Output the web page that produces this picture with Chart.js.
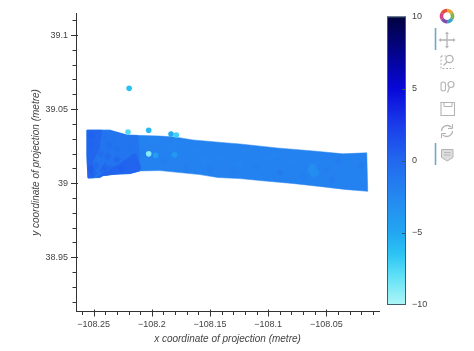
<!DOCTYPE html>
<html><head><meta charset="utf-8">
<style>
html,body{margin:0;padding:0;background:#fff;width:474px;height:351px;overflow:hidden}
canvas{position:absolute;left:0;top:0;filter:blur(0.35px)}
#tools{position:absolute;left:0;top:0;filter:blur(0.35px)}
</style>
<script src="https://cdn.jsdelivr.net/npm/chart.js@4"></script>
</head><body>
<canvas id="main" width="474" height="351" style="width:474px;height:351px"></canvas>
<canvas id="bar" width="474" height="351" style="width:474px;height:351px"></canvas>
<svg id="tools" width="474" height="351" fill="none">
<g stroke-width="3.4" fill="none">
<path d="M447 10.5a5.6 5.6 0 0 1 4.8 2.8" stroke="#e8a33a"/><path d="M451.8 13.3a5.6 5.6 0 0 1 0 5.6" stroke="#7ab648"/>
<path d="M451.8 18.9a5.6 5.6 0 0 1-4.8 2.8" stroke="#3aa0c8"/><path d="M447 21.7a5.6 5.6 0 0 1-4.8-2.8" stroke="#7a4fb0"/>
<path d="M442.2 18.9a5.6 5.6 0 0 1 0-5.6" stroke="#d8408a"/><path d="M442.2 13.3a5.6 5.6 0 0 1 4.8-2.8" stroke="#e2503a"/>
</g>
<path d="M435.5 28v22M435.5 143v22" stroke="#6fa8c8" stroke-width="1.6"/>
<g stroke="#b4b4b4" stroke-width="1.3">
<path d="M441 40h12M447 34v12" /><path d="M438.5 40l2.5-2v4zM455.5 40l-2.5-2v4zM447 31.5l-2 2.5h4zM447 48.5l-2-2.5h4z" fill="#b4b4b4" stroke="none"/>
<path d="M441 56v12.5h13" stroke-dasharray="2 1.5" stroke-width="1"/><path d="M441 56h5" stroke-dasharray="2 1.5" stroke-width="1"/>
<circle cx="449.5" cy="59" r="3.6"/><path d="M447 62l-3.500 3.500"/>
<rect x="441" y="82" width="4.500" height="9" rx="2.200" stroke-width="1.1"/><circle cx="451" cy="84.500" r="3" stroke-width="1.200"/><path d="M449.500 87.500l-2 5" stroke-width="1.200"/>
<path d="M441 102.500h13.500v13h-13.500z" stroke-width="1.100"/><path d="M444 102.500v4h8v-4" stroke-width="1"/>
<path d="M441.500 131a5.800 5.800 0 0 1 10-3.600M452.500 131a5.800 5.800 0 0 1-10 3.600"/>
<path d="M452.500 124v4.500h-4.500M441.500 138v-4.500h4.500" stroke-width="1"/>
<path d="M441.500 149.500h11.500v8l-5.700 3.500-5.800-3.500z" fill="#ddd" stroke-width="1"/><path d="M444 152.500h6.500M444 155h6.500" stroke-width="0.900"/>
</g>
</svg>
<script>
const xTickValues = [-108.25, -108.2, -108.15, -108.1, -108.05];
const yTickValues = [38.95, 39, 39.05, 39.1];
const xLabels = ['−108.25', '−108.2', '−108.15', '−108.1', '−108.05'];
const yLabels = ['38.95', '39', '39.05', '39.1'];
const barTicks = [-10, -5, 0, 5, 10];
const barLabels = ['−10', '−5', '0', '5', '10'];
const colorStops = [[-10,'#aef6f6'],[-8,'#5fe0f6'],[-6.5,'#2cc4f4'],[-5,'#22a6f2'],[-2.5,'#2488f0'],[0,'#2268ee'],[2.5,'#1a3cea'],[5,'#0808d8'],[7.5,'#04048c'],[10,'#02023f']];
const swathOutline = [
 [-108.2558,39.0358],[-108.2360,39.0358],[-108.2214,39.0325],[-108.1930,39.0318],[-108.1802,39.0312],[-108.1647,39.0292],
 [-108.1355,39.0272],[-108.1243,39.0265],[-108.0925,39.0238],[-108.0616,39.0218],[-108.0358,39.0198],[-108.0152,39.0205],
 [-108.0144,38.9945],[-108.0341,38.9958],[-108.0556,38.9978],[-108.0788,38.9998],[-108.1071,39.0018],[-108.1243,39.0031],
 [-108.1432,39.0038],[-108.1587,39.0058],[-108.1930,39.0085],[-108.2102,39.0083],[-108.2188,39.0065],[-108.2317,39.0061],
 [-108.2420,39.0051],[-108.2446,39.0038],[-108.2549,39.0035],[-108.2558,39.0178],[-108.2558,39.0358]];
const swathValue = -2;
const patchLeft = [[-108.2558,39.0358],[-108.2360,39.0358],[-108.2214,39.0325],[-108.2120,39.0322],[-108.2100,39.0120],[-108.2102,39.0083],[-108.2188,39.0065],[-108.2317,39.0061],[-108.2420,39.0051],[-108.2446,39.0038],[-108.2549,39.0035],[-108.2558,39.0178],[-108.2558,39.0358]];
const patchLeftValue = -1;
const patchDiag = [[-108.2470,39.0040],[-108.2300,39.0120],[-108.2140,39.0200],[-108.2095,39.0100],[-108.2130,39.0078],[-108.2188,39.0065],[-108.2317,39.0061],[-108.2420,39.0051],[-108.2470,39.0040]];
const patchDiagValue = 0.2;
const patchEdge = [[-108.2558,39.0358],[-108.2430,39.0358],[-108.2450,39.0240],[-108.2510,39.0140],[-108.2500,39.0036],[-108.2549,39.0035],[-108.2558,39.0178],[-108.2558,39.0358]];
const patchEdgeValue = 0.1;
const patchLight = [[-108.0640,39.0130],[-108.0600,39.0130],[-108.0560,39.0060],[-108.0620,39.0040],[-108.0660,39.0080],[-108.0640,39.0130]];
const patchLightValue = -2.9;
const textureX = [-108.2525,-108.2525,-108.2525,-108.2500,-108.2470,-108.2440,-108.2400,-108.2370,-108.2330,-108.2290,-108.2250,-108.2210,-108.2400,-108.2350,-108.2300,-108.2260,-108.2190,-108.2160,-108.2130,-108.2480,-108.2420,-108.2380,-108.2070,-108.2000,-108.1900,-108.1800,-108.1700,-108.1600,-108.1500,-108.1400,-108.1300,-108.1200,-108.1100,-108.1000,-108.0900,-108.0800,-108.0700,-108.0500,-108.0400,-108.0300,-108.0200,-108.1550,-108.1250,-108.0950,-108.0450];
const textureY = [39.0320,39.0260,39.0100,39.0070,39.0310,39.0200,39.0320,39.0260,39.0300,39.0230,39.0290,39.0240,39.0110,39.0100,39.0160,39.0095,39.0130,39.0180,39.0110,39.0120,39.0085,39.0180,39.0200,39.0285,39.0150,39.0270,39.0110,39.0220,39.0090,39.0170,39.0070,39.0220,39.0110,39.0170,39.0070,39.0150,39.0040,39.0090,39.0150,39.0030,39.0120,39.0150,39.0130,39.0190,39.0020];
const textureV = [0.8,0.5,1.0,0.5,-0.2,0,-0.6,-0.2,-0.7,-0.3,-0.9,-0.6,0.8,0.4,0.6,0.7,0.1,-0.1,0.3,0.5,0.7,0.2,-1.5,-2.4,-1.6,-2.4,-1.5,-2.5,-1.4,-2.4,-1.4,-2.5,-1.3,-2.4,-1.2,-2.5,-1.4,-1.5,-1.1,-1.9,-1.2,-2.6,-2.6,-2.6,-1.0];
const outlierX = [-108.2195,-108.2205,-108.2027,-108.1835,-108.1790,-108.2027,-108.1967,-108.1805];
const outlierY = [39.0640,39.0345,39.0357,39.0332,39.0325,39.0198,39.0188,39.0192];
const outlierV = [-6.3,-7.6,-6.0,-5.2,-7.2,-9,-4.4,-3.8];

function colorFor(v,alpha){
  const a1=alpha===undefined?1:alpha;
  for(let i=1;i<colorStops.length;i++) if(v<=colorStops[i][0]){
    const [a,ca]=colorStops[i-1],[b,cb]=colorStops[i],t=(v-a)/(b-a);
    const h=c=>[1,3,5].map(k=>parseInt(c.substr(k,2),16));
    const A=h(ca),B=h(cb);
    return 'rgba('+A.map((q,j)=>Math.round(q+(B[j]-q)*t)).join(',')+','+a1+')';
  }
  return colorStops[colorStops.length-1][1];
}
const poly=(pts,v)=>({type:'line',data:pts.map(p=>({x:p[0],y:p[1]})),showLine:true,fill:'shape',
  backgroundColor:colorFor(v),borderColor:colorFor(v),borderWidth:0.5,pointRadius:0,tension:0});
const TXT='#444444', AX='#333333', FONT='"Liberation Sans",Arial,sans-serif';
const xMajor=v=>xTickValues.some(t=>Math.abs(t-v)<1e-6);
const yMajor=v=>yTickValues.some(t=>Math.abs(t-v)<1e-6);
const hundredths=(a,b)=>{const r=[];for(let k=Math.ceil(a*100-1e-6);k<=b*100+1e-6;k++)r.push({value:k/100});return r;};
const tickMarks={id:'tickMarks',afterDraw(c){
  const g=c.ctx,x=c.scales.x,y=c.scales.y;
  g.save();g.strokeStyle=AX;g.lineWidth=1;g.beginPath();
  x.ticks.forEach(t=>{const p=Math.round(x.getPixelForValue(t.value))+.5,m=xMajor(t.value);
    g.moveTo(p,x.top-(m?2:0));g.lineTo(p,x.top+(m?5:3.5));});
  y.ticks.forEach(t=>{const p=Math.round(y.getPixelForValue(t.value))+.5,m=yMajor(t.value);
    g.moveTo(y.right+(m?2:0),p);g.lineTo(y.right-(m?5:3.5),p);});
  g.stroke();g.restore();
}};
new Chart(document.getElementById('main'),{
  type:'scatter',
  plugins:[tickMarks],
  data:{datasets:[
    {type:'scatter',data:outlierX.map((x,i)=>({x,y:outlierY[i]})),pointRadius:2.8,pointBorderWidth:0,
     pointBackgroundColor:outlierV.map(v=>colorFor(v))},
    {type:'scatter',data:textureX.map((x,i)=>({x,y:textureY[i]})),pointStyle:'rectRot',pointRadius:4,pointBorderWidth:0,
     pointBackgroundColor:textureV.map(v=>colorFor(v,0.45))},
    poly(patchLight,patchLightValue),poly(patchEdge,patchEdgeValue),poly(patchDiag,patchDiagValue),
    poly(patchLeft,patchLeftValue),poly(swathOutline,swathValue)
  ].map((d,i)=>({...d,order:i}))},
  options:{responsive:false,animation:false,
    layout:{padding:{top:10,right:95,left:0,bottom:0}},
    plugins:{legend:{display:false},tooltip:{enabled:false}},
    scales:{
      x:{type:'linear',min:-108.2652,max:-108.0047,
        afterBuildTicks:s=>{s.ticks=hundredths(s.min,s.max);},
        afterFit:s=>{s.height=39.5;},
        grid:{drawOnChartArea:false,drawTicks:false},border:{color:AX,width:1},
        ticks:{autoSkip:false,maxRotation:0,padding:8,color:TXT,font:{family:FONT,size:9},
          callback:v=>{const i=xTickValues.findIndex(t=>Math.abs(t-v)<1e-6);return i<0?'':xLabels[i];}},
        title:{display:true,text:'x coordinate of projection (metre)',color:TXT,padding:{top:0,bottom:6},font:{family:FONT,size:10,style:'italic'}}},
      y:{type:'linear',min:38.9134,max:39.1146,
        afterBuildTicks:s=>{s.ticks=hundredths(s.min,s.max);},
        afterFit:s=>{s.width=76;},
        grid:{drawOnChartArea:false,drawTicks:false},border:{color:AX,width:1},
        ticks:{autoSkip:false,padding:8,color:TXT,font:{family:FONT,size:9},
          callback:v=>{const i=yTickValues.findIndex(t=>Math.abs(t-v)<1e-6);return i<0?'':yLabels[i];}},
        title:{display:true,text:'y coordinate of projection (metre)',color:TXT,padding:{top:30,bottom:0},font:{family:FONT,size:10,style:'italic'}}}
    }}
});
const barTickMarks={id:'barTickMarks',
 afterLayout(c){
  const y=c.scales.y;
  const g=c.ctx.createLinearGradient(0,y.getPixelForValue(-10),0,y.getPixelForValue(10));
  colorStops.forEach(([v,col])=>g.addColorStop((v+10)/20,col));
  c.data.datasets[0].backgroundColor=g;
 },
 afterDraw(c){
  const g=c.ctx,y=c.scales.y,x=c.chartArea;
  g.save();g.strokeStyle='#33566a';g.lineWidth=1;g.beginPath();
  barTicks.slice(1,-1).forEach(v=>{const p=Math.round(y.getPixelForValue(v))+.5;g.moveTo(x.right,p);g.lineTo(x.right-4,p);});
  g.stroke();
  g.strokeStyle='#3f5f6e';g.strokeRect(x.left+.5,y.top+.5,x.right-x.left-1,y.bottom-y.top-.5);
  g.restore();
}};
new Chart(document.getElementById('bar'),{
  type:'bar',
  plugins:[barTickMarks],
  data:{labels:['c'],datasets:[{data:[[-10,10]],barPercentage:1,categoryPercentage:1,borderWidth:0,backgroundColor:'#2268ee'}]},
  options:{responsive:false,animation:false,
    layout:{padding:{top:16.5,bottom:46.5,left:387,right:0}},
    plugins:{legend:{display:false},tooltip:{enabled:false}},
    scales:{
      x:{display:true,grid:{display:false,drawTicks:false},border:{display:false},ticks:{display:false},afterFit:s=>{s.height=0;}},
      y:{position:'right',min:-10,max:10,
        afterBuildTicks:s=>{s.ticks=barTicks.map(value=>({value}));},
        afterFit:s=>{s.width=68;},
        grid:{drawOnChartArea:false,drawTicks:false},border:{display:false},
        ticks:{autoSkip:false,padding:6,color:TXT,font:{family:FONT,size:9},
          callback:v=>barLabels[barTicks.indexOf(v)]}}
    }}
});
</script>
</body></html>
